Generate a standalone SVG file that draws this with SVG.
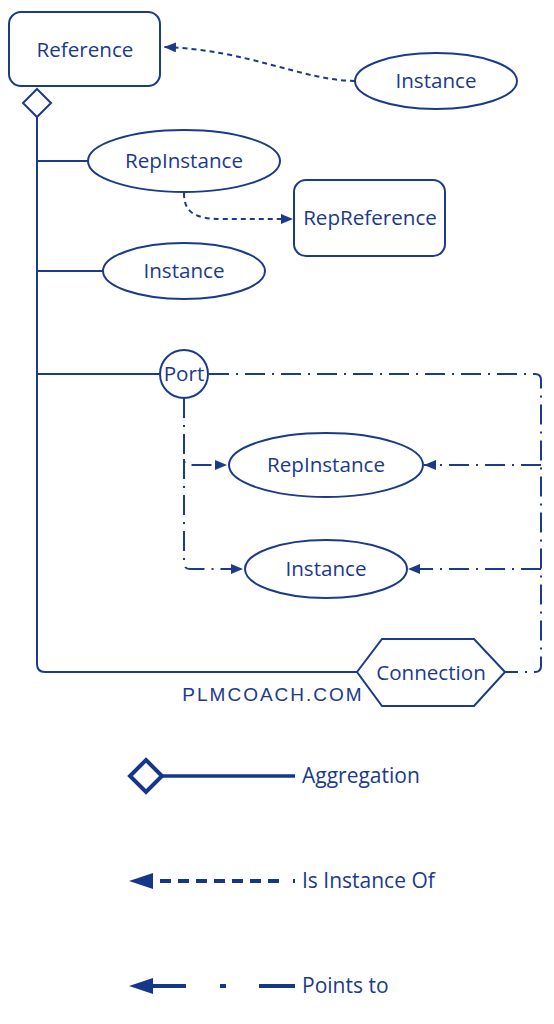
<svg xmlns="http://www.w3.org/2000/svg" width="554" height="1024" viewBox="0 0 554 1024">
<defs>
<style>
.n{fill:#fff;stroke:#1b3a8c;stroke-width:2}
.t{font-family:"Open Sans","Noto Sans",sans-serif;font-size:20.6px;fill:#1b3a8c;text-anchor:middle}
.lt{font-family:"Open Sans","Noto Sans",sans-serif;font-size:21px;fill:#1b3a8c}
.c{fill:none;stroke:#1b3a8c;stroke-width:2}
.d{stroke-dasharray:5 4}
.dd{stroke-dasharray:20 7 2 7}
</style>
<marker id="a" viewBox="0 0 12 10" refX="12" refY="5" markerWidth="12" markerHeight="10" markerUnits="userSpaceOnUse" orient="auto">
<path d="M0,0 L12,5 L0,10 Z" fill="#1b3a8c"/>
</marker>
</defs>
<g id="connectors">
<path class="c" d="M37,117 V664 Q37,672 45,672 H358"/>
<path class="c" d="M37,161 H88"/>
<path class="c" d="M37,271 H103"/>
<path class="c" d="M37,374 H160"/>
<path class="c d" d="M355,81 C300,80 250,50 164,47" marker-end="url(#a)"/>
<path class="c d" d="M184,193 C184,212 194,219 222,219 L293,219" marker-end="url(#a)"/>
<path class="c dd" d="M209,374 H535 Q541,374 541,380 V666 Q541,672 535,672 H505"/>
<path class="c dd" d="M184,398 V459 Q184,465 190,465 H227" marker-end="url(#a)"/>
<path class="c dd" d="M184,459 V563 Q184,569 190,569 H243" marker-end="url(#a)"/>
<path class="c dd" d="M541,465 H424" marker-end="url(#a)"/>
<path class="c dd" d="M541,569 H408" marker-end="url(#a)"/>
</g>
<g id="node-reference">
<rect class="n" x="9" y="12" width="151" height="74" rx="12"/>
<text class="t" x="85" y="57">Reference</text>
</g>
<g id="diamond">
<path class="n" d="M37,89 L51,103 L37,117 L23,103 Z"/>
</g>
<g id="node-instance-top">
<ellipse class="n" cx="436" cy="81" rx="81" ry="28"/>
<text class="t" x="436" y="88">Instance</text>
</g>
<g id="node-repinstance-1">
<ellipse class="n" cx="184" cy="161" rx="96" ry="31"/>
<text class="t" x="184" y="168">RepInstance</text>
</g>
<g id="node-repreference">
<rect class="n" x="294" y="180" width="151" height="76" rx="12"/>
<text class="t" x="370" y="225">RepReference</text>
</g>
<g id="node-instance-2">
<ellipse class="n" cx="184" cy="271" rx="81" ry="28"/>
<text class="t" x="184" y="278">Instance</text>
</g>
<g id="node-port">
<circle class="n" cx="184" cy="374" r="24"/>
<text class="t" x="184" y="381">Port</text>
</g>
<g id="node-repinstance-2">
<ellipse class="n" cx="326" cy="465" rx="97" ry="32"/>
<text class="t" x="326" y="472">RepInstance</text>
</g>
<g id="node-instance-3">
<ellipse class="n" cx="326" cy="569" rx="81" ry="29"/>
<text class="t" x="326" y="576">Instance</text>
</g>
<g id="node-connection">
<path class="n" d="M357,672 L382,639 L474,639 L505,672 L474,706 L382,706 Z"/>
<text class="t" x="431" y="680">Connection</text>
</g>
<text x="273" y="701" font-family="'Liberation Sans',sans-serif" font-size="19" fill="#1b3a8c" text-anchor="middle" letter-spacing="2">PLMCOACH.COM</text>
<g id="legend">
<path d="M146,760 L162,776 L146,792 L130,776 Z" fill="#fff" stroke="#15378b" stroke-width="4"/>
<path d="M162,776 H295" stroke="#15378b" stroke-width="3.5"/>
<text class="lt" x="302" y="783">Aggregation</text>
<path d="M129,881 L153,873 L153,889 Z" fill="#15378b"/>
<path d="M153,881 H295" stroke="#15378b" stroke-width="4" stroke-dasharray="0 7 11 7 11 7 11 7 11 7 11 7 11 7 11 7"/>
<text class="lt" x="302" y="888">Is Instance Of</text>
<path d="M129,986 L153,978 L153,994 Z" fill="#15378b"/>
<path d="M153,986 H186 M220,986 H226 M259,986 H295" stroke="#15378b" stroke-width="4"/>
<text class="lt" x="302" y="993">Points to</text>
</g>
</svg>
